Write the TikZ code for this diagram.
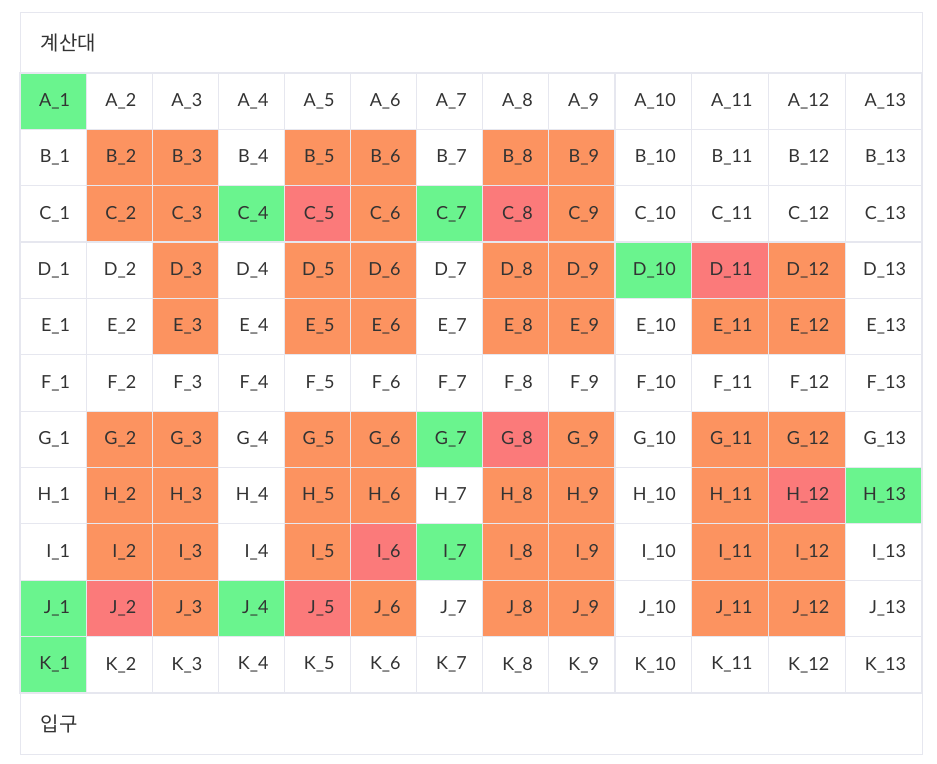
\documentclass[tikz,border=0pt]{standalone}
\usepackage{fontspec}
\setmainfont{Lato}
\newfontfamily\kofont{Noto Sans CJK KR}

\definecolor{seatw}{HTML}{FFFFFF}
\definecolor{seatg}{HTML}{6AF48E}
\definecolor{seato}{HTML}{FC9360}
\definecolor{seatr}{HTML}{FB7A7A}
\definecolor{gridline}{HTML}{E6E7EF}
\definecolor{labelgray}{HTML}{333333}

\begin{document}
\begin{tikzpicture}[x=0.75pt,y=-0.75pt]
\tikzstyle{every node}=[font=\fontsize{13.5}{15}\selectfont, text=labelgray]
\tikzstyle{cell}=[draw=gridline, line width=0.9pt, inner sep=0pt, minimum height=42.27pt]
\tikzstyle{band}=[draw=gridline, line width=0.9pt, anchor=north west,
  minimum width=676.5pt, minimum height=45.75pt, inner xsep=15pt,
  text width=646.5pt, align=left, font=\kofont\fontsize{15}{17}\selectfont]

\useasboundingbox (0,0) rectangle (937,763);
\fill[white] (0,0) rectangle (937,763);

% counter and entrance
\node[band] (counter) at (20,12) {계산대};
\node[band] (entrance) at (20,693) {입구};

% seats, one row per letter
\foreach \row/\pat [count=\rowno] in {
  A/{g,w,w,w,w,w,w,w,w,w,w,w,w},
  B/{w,o,o,w,o,o,w,o,o,w,w,w,w},
  C/{w,o,o,g,r,o,g,r,o,w,w,w,w},
  D/{w,w,o,w,o,o,w,o,o,g,r,o,w},
  E/{w,w,o,w,o,o,w,o,o,w,o,o,w},
  F/{w,w,w,w,w,w,w,w,w,w,w,w,w},
  G/{w,o,o,w,o,o,g,r,o,w,o,o,w},
  H/{w,o,o,w,o,o,w,o,o,w,o,r,g},
  I/{w,o,o,w,o,r,g,o,o,w,o,o,w},
  J/{g,r,o,g,r,o,w,o,o,w,o,o,w},
  K/{g,w,w,w,w,w,w,w,w,w,w,w,w}} {
  \foreach \state [count=\colno] in \pat {
    \pgfmathsetmacro\cellw{\colno<10 ? 66.11 : 76.75}
    \pgfmathsetmacro\cellx{\colno<10 ? 20+(\colno-0.5)*66.11 : 615+(\colno-9.5)*76.75}
    \pgfmathsetmacro\celly{73+(\rowno-0.5)*56.36}
    \pgfmathsetmacro\minw{\cellw*0.75}
    \pgfmathsetmacro\textw{(\cellw-32)*0.75}
    \node[cell, fill=seat\state, minimum width=\minw pt, text width=\textw pt, align=right]
      (\row\colno) at (\cellx,\celly) {\row\_\colno};
  }
}
\end{tikzpicture}
\end{document}
